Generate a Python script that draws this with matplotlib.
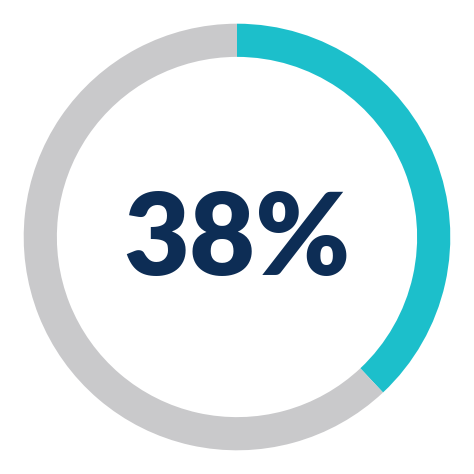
import matplotlib.pyplot as plt

# Data
labels = ["Done", "Remaining"]
values = [38, 62]
colors = ["#1cbfcb", "#c9c9cb"]
center_text = "38%"

fig = plt.figure(figsize=(4.74, 4.74), dpi=100)
ax = fig.add_axes([0, 0, 1, 1])

radius = 0.90
ax.pie(values, colors=colors, startangle=90, counterclock=False,
       radius=radius, wedgeprops=dict(width=0.14, edgecolor="none"))

ax.text(0, 0.02, center_text, ha="center", va="center_baseline",
        fontsize=82, fontweight="heavy", color="#0d2d55", family="Lato")

ax.set_xlim(-1, 1)
ax.set_ylim(-1, 1)
ax.set_aspect("equal")
ax.axis("off")

fig.savefig("out.png", dpi=100, facecolor="white")
